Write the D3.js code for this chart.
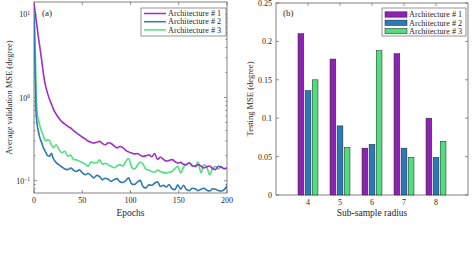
<!DOCTYPE html>
<html>
<head>
<meta charset="utf-8">
<script src="https://cdn.jsdelivr.net/npm/d3@7"></script>
<style>
  html, body { margin: 0; padding: 0; background: #fff; }
  svg text { font-family: "Liberation Serif", "DejaVu Serif", serif; fill: #262626; }
</style>
</head>
<body>
<div id="chart"></div>
<script>
// ---- data ----
const seriesNames = ["Architecture # 1", "Architecture # 2", "Architecture # 3"];
const epochs = [0, 1, 2, 3, 4, 5, 6, 8, 10, 12, 14, 16, 18, 20,
  23, 26, 29, 32, 35, 38, 41, 44, 47, 50, 53, 56, 59, 62, 65, 68, 71, 74, 77, 80,
  83, 86, 89, 92, 95, 98, 101, 104, 107, 110, 113, 116, 119, 122, 125, 128, 131, 134, 137, 140,
  143, 146, 149, 152, 155, 158, 161, 164, 167, 170, 173, 176, 179, 182, 185, 188, 191, 194, 197, 200];
const mseArch1 = [13.5, 11, 9.0, 7.4, 6.0, 4.9, 4.1, 2.8, 1.85, 1.38, 1.13, 0.96, 0.84, 0.73,
  0.63, 0.56, 0.51, 0.48, 0.45, 0.43, 0.40, 0.375, 0.355, 0.335, 0.318, 0.30, 0.29, 0.284, 0.29, 0.297, 0.28, 0.27, 0.286, 0.28,
  0.262, 0.248, 0.258, 0.25, 0.232, 0.222, 0.215, 0.21, 0.212, 0.203, 0.196, 0.199, 0.205, 0.194, 0.212, 0.18, 0.193, 0.181, 0.172, 0.175,
  0.179, 0.17, 0.163, 0.166, 0.157, 0.156, 0.164, 0.153, 0.148, 0.156, 0.15, 0.142, 0.147, 0.15, 0.14, 0.136, 0.149, 0.145, 0.139, 0.142];
const mseArch2 = [10, 2.5, 0.72, 0.5, 0.42, 0.37, 0.33, 0.285, 0.245, 0.222, 0.2, 0.197, 0.213, 0.185,
  0.165, 0.155, 0.146, 0.138, 0.136, 0.142, 0.134, 0.129, 0.135, 0.125, 0.118, 0.122, 0.116, 0.108, 0.116, 0.112, 0.103, 0.107, 0.104, 0.098,
  0.103, 0.106, 0.097, 0.095, 0.1, 0.108, 0.092, 0.09, 0.096, 0.101, 0.085, 0.082, 0.089, 0.088, 0.093, 0.097, 0.085, 0.088, 0.084, 0.09,
  0.08, 0.078, 0.089, 0.079, 0.088, 0.078, 0.076, 0.081, 0.08, 0.076, 0.079, 0.081, 0.077, 0.075, 0.08, 0.079, 0.076, 0.075, 0.078, 0.087];
const mseArch3 = [11, 5.5, 1.6, 0.72, 0.58, 0.52, 0.46, 0.39, 0.34, 0.30, 0.31, 0.305, 0.27, 0.25,
  0.27, 0.235, 0.217, 0.226, 0.197, 0.203, 0.18, 0.178, 0.172, 0.165, 0.158, 0.149, 0.168, 0.165, 0.163, 0.178, 0.158, 0.162, 0.155, 0.149,
  0.143, 0.15, 0.156, 0.15, 0.17, 0.185, 0.147, 0.138, 0.152, 0.168, 0.158, 0.137, 0.134, 0.129, 0.127, 0.134, 0.129, 0.125, 0.124, 0.126,
  0.129, 0.14, 0.149, 0.124, 0.145, 0.158, 0.163, 0.148, 0.15, 0.168, 0.124, 0.155, 0.145, 0.118, 0.14, 0.148, 0.138, 0.149, 0.14, 0.142];

const radii = [4, 5, 6, 7, 8];
const testArch1 = [0.210, 0.177, 0.061, 0.184, 0.100];
const testArch2 = [0.136, 0.090, 0.066, 0.061, 0.049];
const testArch3 = [0.150, 0.062, 0.188, 0.049, 0.070];

const epochTicks = [0, 50, 100, 150, 200];
const logTicks = [0.1, 1, 10];
const mseTicks = [0, 0.05, 0.1, 0.15, 0.2, 0.25];

const lineColors = ["#9a30c6", "#2f78b3", "#4fdf7c"];
const barColors = ["#8d22b3", "#2b79b8", "#4fdd7e"];

const width = 474, height = 280;
const svg = d3.select("#chart").append("svg").attr("width", width).attr("height", height);
const axisColor = "#4d4d4d";

function supLabel(sel, exp) {
  sel.text("10").append("tspan").attr("dy", "-0.45em").style("font-size", "5.5px").text(exp);
}

// ---------- panel (a) ----------
const A = { left: 34, right: 227, top: 2, bottom: 193 };
const xA = d3.scaleLinear().domain([0, 200]).range([A.left, A.right]);
const yA = d3.scaleLog().domain([0.0711, 14.1]).range([A.bottom, A.top]);

const gA = svg.append("g");
gA.append("rect").attr("x", A.left).attr("y", A.top)
  .attr("width", A.right - A.left).attr("height", A.bottom - A.top)
  .attr("fill", "none").attr("stroke", axisColor).attr("stroke-width", 0.7);

// minor log ticks
const minorA = [];
[0.01, 0.1, 1, 10].forEach(d => { for (let k = 1; k < 10; k++) minorA.push(d * k); });
const minorIn = minorA.filter(v => v >= 0.0711 && v <= 14.1);
minorIn.forEach(v => {
  const major = logTicks.includes(+v.toPrecision(3));
  const len = major ? 3 : 1.6;
  gA.append("line").attr("x1", A.left).attr("x2", A.left + len).attr("y1", yA(v)).attr("y2", yA(v))
    .attr("stroke", axisColor).attr("stroke-width", 0.6);
  gA.append("line").attr("x1", A.right).attr("x2", A.right - len).attr("y1", yA(v)).attr("y2", yA(v))
    .attr("stroke", axisColor).attr("stroke-width", 0.6);
});
epochTicks.forEach(t => {
  gA.append("line").attr("x1", xA(t)).attr("x2", xA(t)).attr("y1", A.bottom).attr("y2", A.bottom - 3)
    .attr("stroke", axisColor).attr("stroke-width", 0.6);
  gA.append("line").attr("x1", xA(t)).attr("x2", xA(t)).attr("y1", A.top).attr("y2", A.top + 3)
    .attr("stroke", axisColor).attr("stroke-width", 0.6);
  gA.append("text").attr("x", xA(t)).attr("y", A.bottom + 10).attr("text-anchor", "middle")
    .style("font-size", "8px").text(t);
});
[["1", 10], ["0", 1], ["\u22121", 0.1]].forEach(([e, v]) => {
  gA.append("text").attr("x", A.left - 4).attr("y", yA(v) + 3).attr("text-anchor", "end")
    .style("font-size", "8px").call(supLabel, e);
});

svg.append("clipPath").attr("id", "clipA").append("rect")
  .attr("x", A.left).attr("y", A.top).attr("width", A.right - A.left).attr("height", A.bottom - A.top);

const line = d3.line().x((d, i) => xA(epochs[i])).y(d => yA(d)).curve(d3.curveMonotoneX);
const mseSeries = [mseArch1, mseArch2, mseArch3];
gA.append("g").attr("clip-path", "url(#clipA)").selectAll("path").data([2, 0, 1]).enter().append("path")
  .attr("fill", "none").attr("stroke-width", 1.6).attr("stroke-linejoin", "round")
  .attr("stroke", i => lineColors[i]).attr("d", i => line(mseSeries[i]));

gA.append("text").attr("x", 42).attr("y", 16).style("font-size", "9px").text("(a)");
gA.append("text").attr("x", xA(100)).attr("y", 216).attr("text-anchor", "middle")
  .style("font-size", "9.5px").text("Epochs");
gA.append("text").attr("transform", `translate(12,${(A.top + A.bottom) / 2}) rotate(-90)`)
  .attr("text-anchor", "middle").style("font-size", "8.5px").text("Average validation MSE (degree)");

// legend (a)
const legA = gA.append("g").attr("transform", "translate(141,8)");
legA.append("rect").attr("width", 85).attr("height", 28).attr("fill", "#fff")
  .attr("stroke", axisColor).attr("stroke-width", 0.6);
seriesNames.forEach((n, i) => {
  const yy = 5.5 + i * 8.2;
  legA.append("line").attr("x1", 3).attr("x2", 25).attr("y1", yy).attr("y2", yy)
    .attr("stroke", lineColors[i]).attr("stroke-width", 1.5);
  legA.append("text").attr("x", 27).attr("y", yy + 2.7).style("font-size", "8.2px").text(n);
});

// ---------- panel (b) ----------
const B = { left: 276, right: 468, top: 3, bottom: 195 };
const xB = d3.scaleLinear().domain([3, 9]).range([B.left, B.right]);
const yB = d3.scaleLinear().domain([0, 0.25]).range([B.bottom, B.top]);
const gB = svg.append("g");
gB.append("rect").attr("x", B.left).attr("y", B.top)
  .attr("width", B.right - B.left).attr("height", B.bottom - B.top)
  .attr("fill", "none").attr("stroke", axisColor).attr("stroke-width", 0.7);

mseTicks.forEach(t => {
  gB.append("line").attr("x1", B.left).attr("x2", B.left + 3).attr("y1", yB(t)).attr("y2", yB(t))
    .attr("stroke", axisColor).attr("stroke-width", 0.6);
  gB.append("line").attr("x1", B.right).attr("x2", B.right - 3).attr("y1", yB(t)).attr("y2", yB(t))
    .attr("stroke", axisColor).attr("stroke-width", 0.6);
  gB.append("text").attr("x", B.left - 4).attr("y", yB(t) + 3).attr("text-anchor", "end")
    .style("font-size", "8px").text(t);
});
radii.forEach(r => {
  gB.append("line").attr("x1", xB(r)).attr("x2", xB(r)).attr("y1", B.bottom).attr("y2", B.bottom - 3)
    .attr("stroke", axisColor).attr("stroke-width", 0.6);
  gB.append("line").attr("x1", xB(r)).attr("x2", xB(r)).attr("y1", B.top).attr("y2", B.top + 3)
    .attr("stroke", axisColor).attr("stroke-width", 0.6);
  gB.append("text").attr("x", xB(r)).attr("y", B.bottom + 10).attr("text-anchor", "middle")
    .style("font-size", "8px").text(r);
});

const testSeries = [testArch1, testArch2, testArch3];
const offset = 0.222, barW = 0.18;
testSeries.forEach((vals, s) => {
  gB.selectAll(".bar" + s).data(vals).enter().append("rect")
    .attr("x", (d, i) => xB(radii[i] + (s - 1) * offset - barW / 2))
    .attr("width", xB(3 + barW) - xB(3))
    .attr("y", d => yB(d)).attr("height", d => yB(0) - yB(d))
    .attr("fill", barColors[s]).attr("stroke", "#222").attr("stroke-width", 0.5);
});

gB.append("text").attr("x", 283).attr("y", 16).style("font-size", "9px").text("(b)");
gB.append("text").attr("x", (B.left + B.right) / 2).attr("y", 216).attr("text-anchor", "middle")
  .style("font-size", "9.5px").text("Sub-sample radius");
gB.append("text").attr("transform", `translate(253,${(B.top + B.bottom) / 2}) rotate(-90)`)
  .attr("text-anchor", "middle").style("font-size", "8.5px").text("Testing MSE (degree)");

const legB = gB.append("g").attr("transform", "translate(382,8)");
legB.append("rect").attr("width", 84).attr("height", 28).attr("fill", "#fff")
  .attr("stroke", axisColor).attr("stroke-width", 0.6);
seriesNames.forEach((n, i) => {
  const yy = 6.5 + i * 8.3;
  legB.append("rect").attr("x", 3).attr("y", yy - 2.7).attr("width", 22).attr("height", 5.4)
    .attr("fill", barColors[i]).attr("stroke", "#222").attr("stroke-width", 0.5);
  legB.append("text").attr("x", 27).attr("y", yy + 2.7).style("font-size", "8.2px").text(n);
});
</script>
</body>
</html>
